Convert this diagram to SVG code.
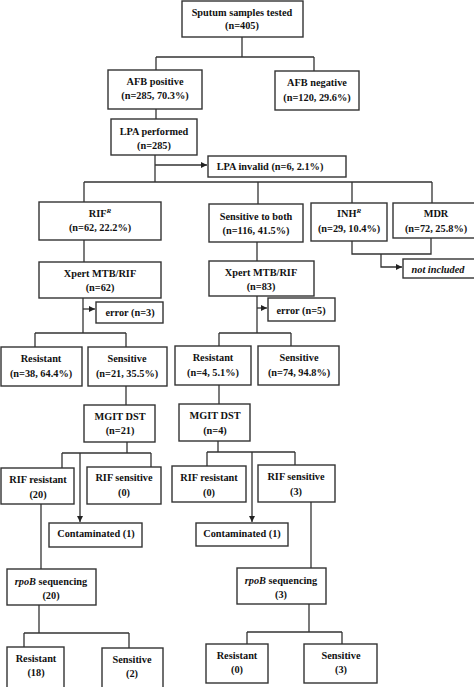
<svg xmlns="http://www.w3.org/2000/svg" width="474" height="687" viewBox="0 0 474 687">
<defs>
<style>
.b{fill:#fff;stroke:#333;stroke-width:1.4}
.c{fill:none;stroke:#333;stroke-width:1.3}
text{font-family:"Liberation Serif","Times New Roman",serif;font-weight:bold;font-size:10.3px;fill:#111;text-anchor:middle}
.i{font-style:italic}
.s{font-size:7px;font-style:italic}
</style>
<marker id="ah" viewBox="0 0 10 10" refX="10" refY="5" markerWidth="6" markerHeight="6" markerUnits="userSpaceOnUse" orient="auto">
<path d="M0,0 L10,5 L0,10 z" fill="#222"/>
</marker>
</defs>
<rect width="474" height="687" fill="#fff"/>
<g id="connectors" class="c">
<path d="M242,37V57M156,57H314M156,57V70M314,57V71"/>
<path d="M156,109V119"/>
<path d="M155,155V182"/>
<path d="M155,165H207" marker-end="url(#ah)"/>
<path d="M84,182H432M84,182V202M258,182V204M352,182V203M432,182V203"/>
<path d="M84,240V262"/>
<path d="M83,298V333"/>
<path d="M83,309H95" marker-end="url(#ah)"/>
<path d="M35,333H126M35,333V347M126,333V347"/>
<path d="M257,242V261"/>
<path d="M257,296V333"/>
<path d="M257,308H267" marker-end="url(#ah)"/>
<path d="M219,333H291M219,333V346M291,333V346"/>
<path d="M352,241V254H431V238"/>
<path d="M381,254V267H402" marker-end="url(#ah)"/>
<path d="M126,386V405"/>
<path d="M127,442V453M62,453H151M62,453V468M151,453V467"/>
<path d="M80,453V522" marker-end="url(#ah)"/>
<path d="M219,385V404"/>
<path d="M218,441V452M207,452H295M207,452V466M295,452V465"/>
<path d="M252,452V522" marker-end="url(#ah)"/>
<path d="M41,504V569"/>
<path d="M311,502V568"/>
<path d="M39,605V633M24,633H129M24,633V647M129,633V648"/>
<path d="M309,604V632M247,632H342M247,632V644M342,632V644"/>
</g>
<g id="sputum"><rect class="b" x="182" y="1" width="121" height="36"/><text x="242" y="15.5">Sputum samples tested</text><text x="242" y="29">(n=405)</text></g>
<g id="afbpos"><rect class="b" x="108" y="70" width="94" height="39"/><text x="155" y="84.5">AFB positive</text><text x="155" y="98.5">(n=285, 70.3%)</text></g>
<g id="afbneg"><rect class="b" x="275" y="71" width="84" height="39"/><text x="317" y="85.5">AFB negative</text><text x="317" y="100.5">(n=120, 29.6%)</text></g>
<g id="lpa"><rect class="b" x="111" y="119" width="86" height="36"/><text x="154" y="134.5">LPA performed</text><text x="154" y="148.5">(n=285)</text></g>
<g id="lpainvalid"><rect class="b" x="208" y="156" width="138" height="21"/><text x="270" y="169.5">LPA invalid (n=6, 2.1%)</text></g>
<g id="rifr"><rect class="b" x="39" y="202" width="122" height="38"/><text x="100" y="216.5">RIF<tspan class="s" dy="-4">R</tspan></text><text x="100" y="230.5">(n=62, 22.2%)</text></g>
<g id="sensboth"><rect class="b" x="209" y="204" width="94" height="38"/><text x="256" y="219.5">Sensitive to both</text><text x="256" y="233.5">(n=116, 41.5%)</text></g>
<g id="inhr"><rect class="b" x="311" y="203" width="76" height="38"/><text x="349" y="216.5">INH<tspan class="s" dy="-4">R</tspan></text><text x="349" y="231.5">(n=29, 10.4%)</text></g>
<g id="mdr"><rect class="b" x="393" y="203" width="90" height="35"/><text x="436" y="216.5">MDR</text><text x="436" y="231.5">(n=72, 25.8%)</text></g>
<g id="xpert62"><rect class="b" x="39" y="262" width="122" height="36"/><text x="100" y="276.5">Xpert MTB/RIF</text><text x="100" y="290.5">(n=62)</text></g>
<g id="error3"><rect class="b" x="96" y="302" width="67" height="21"/><text x="130" y="315.5">error (n=3)</text></g>
<g id="xpert83"><rect class="b" x="209" y="261" width="105" height="35"/><text x="261" y="275.5">Xpert MTB/RIF</text><text x="261" y="289.5">(n=83)</text></g>
<g id="error5"><rect class="b" x="268" y="298" width="67" height="23"/><text x="301" y="313.5">error (n=5)</text></g>
<g id="notincluded"><rect class="b" x="403" y="259" width="80" height="19"/><text class="i" x="438" y="272.5">not included</text></g>
<g id="res38"><rect class="b" x="1" y="347" width="81" height="39"/><text x="41" y="361.5">Resistant</text><text x="41" y="376.5">(n=38, 64.4%)</text></g>
<g id="sens21"><rect class="b" x="88" y="347" width="79" height="39"/><text x="127" y="361.5">Sensitive</text><text x="127" y="376.5">(n=21, 35.5%)</text></g>
<g id="res4"><rect class="b" x="175" y="346" width="76" height="39"/><text x="213" y="360.5">Resistant</text><text x="213" y="375.5">(n=4, 5.1%)</text></g>
<g id="sens74"><rect class="b" x="258" y="346" width="81" height="39"/><text x="299" y="360.5">Sensitive</text><text x="299" y="375.5">(n=74, 94.8%)</text></g>
<g id="mgit21"><rect class="b" x="84" y="405" width="71" height="37"/><text x="120" y="419.5">MGIT DST</text><text x="120" y="433.5">(n=21)</text></g>
<g id="mgit4"><rect class="b" x="179" y="404" width="71" height="37"/><text x="215" y="418.5">MGIT DST</text><text x="215" y="433.5">(n=4)</text></g>
<g id="rifres20"><rect class="b" x="1" y="468" width="73" height="36"/><text x="38" y="482.5">RIF resistant</text><text x="38" y="497.5">(20)</text></g>
<g id="rifsens0"><rect class="b" x="87" y="467" width="74" height="37"/><text x="124" y="480.5">RIF sensitive</text><text x="124" y="495.5">(0)</text></g>
<g id="rifres0"><rect class="b" x="172" y="466" width="74" height="36"/><text x="209" y="480.5">RIF resistant</text><text x="209" y="495.5">(0)</text></g>
<g id="rifsens3"><rect class="b" x="258" y="465" width="77" height="37"/><text x="296" y="479.5">RIF sensitive</text><text x="296" y="494.5">(3)</text></g>
<g id="contam1"><rect class="b" x="49" y="523" width="93" height="24"/><text x="96" y="536.5">Contaminated (1)</text></g>
<g id="contam2"><rect class="b" x="196" y="523" width="92" height="23"/><text x="242" y="536.5">Contaminated (1)</text></g>
<g id="rpob20"><rect class="b" x="7" y="569" width="89" height="36"/><text x="51" y="584.5"><tspan class="i">rpoB</tspan> sequencing</text><text x="51" y="598.5">(20)</text></g>
<g id="rpob3"><rect class="b" x="237" y="568" width="89" height="36"/><text x="281" y="583.5"><tspan class="i">rpoB</tspan> sequencing</text><text x="281" y="597.5">(3)</text></g>
<g id="res18"><rect class="b" x="7" y="647" width="57" height="48"/><text x="36" y="661.5">Resistant</text><text x="36" y="675.5">(18)</text></g>
<g id="sens2"><rect class="b" x="102" y="648" width="61" height="47"/><text x="132" y="662.5">Sensitive</text><text x="132" y="676.5">(2)</text></g>
<g id="res0"><rect class="b" x="206" y="644" width="62" height="39"/><text x="237" y="658.5">Resistant</text><text x="237" y="672.5">(0)</text></g>
<g id="sens3"><rect class="b" x="304" y="644" width="73" height="39"/><text x="341" y="658.5">Sensitive</text><text x="341" y="672.5">(3)</text></g>
</svg>
